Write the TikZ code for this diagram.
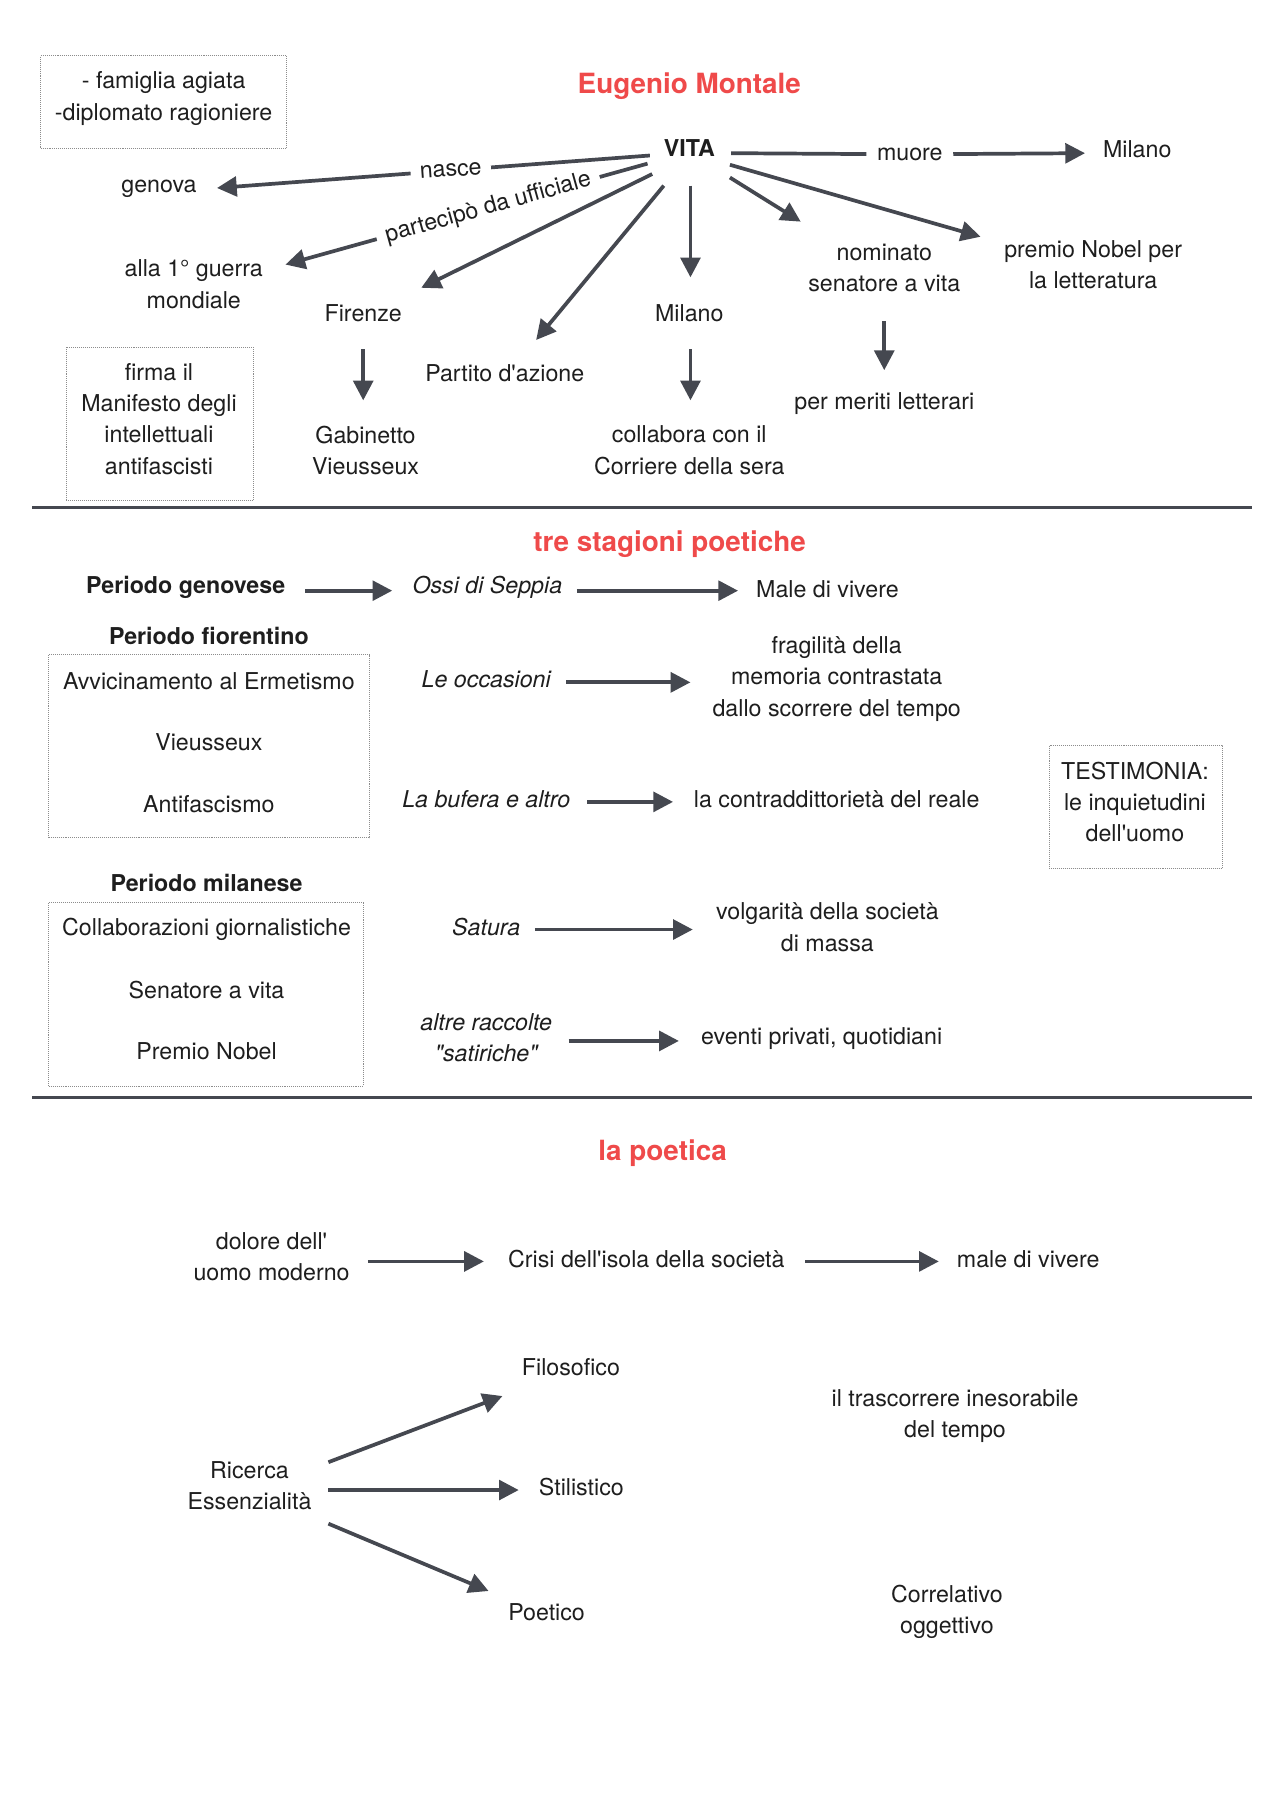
\documentclass[tikz,border=0pt]{standalone}
\usepackage{fontspec}
\setmainfont{TeX Gyre Heros}[Ligatures=TeXOff]
\usetikzlibrary{arrows.meta}
\definecolor{redc}{HTML}{EF4A4A}
\definecolor{arrc}{HTML}{454850}
\definecolor{txtc}{HTML}{1E1E1E}
\definecolor{boxc}{HTML}{8C8C8C}
\begin{document}
\begin{tikzpicture}[x=1pt,y=-1pt,
  every node/.style={font=\fontsize{20}{27}\selectfont, text=txtc, align=center, inner sep=0pt},
  ttl/.style={font=\bfseries\fontsize{24}{28}\selectfont, text=redc},
  bld/.style={font=\bfseries\fontsize{20}{27}\selectfont},
  itl/.style={font=\itshape\fontsize{20}{27}\selectfont},
  lab/.style={fill=white, inner xsep=8pt, inner ysep=2pt},
  arr/.style={draw=arrc, line width=3.2pt, -{Triangle[length=17pt,width=17pt]}},
  ln/.style={draw=arrc, line width=3.2pt},
  sepline/.style={draw=arrc, line width=2.6pt},
  dbox/.style={draw=boxc, densely dotted, line width=0.7pt}
]
\fill[white] (0,0) rectangle (1103,1560.6);
\path[use as bounding box] (0,0) rectangle (1103,1560.6);

% ---------------- section 1 ----------------
\node[ttl] (title) at (594,74) {Eugenio Montale};
\node[dbox, minimum width=212, minimum height=80] (boxFam) at (141,88) {};
\node (fam) at (141,85) {- famiglia agiata\\-diplomato ragioniere};
\node[bld] (vita) at (594,128) {VITA};
\node[inner xsep=9pt] (muore) at (784,133) {muore};
\node (milanoA) at (980,129) {Milano};
\node (genova) at (137,163) {genova};
\node (guerra) at (167,245) {alla 1° guerra\\mondiale};
\node (firenze) at (313,270) {Firenze};
\node (partito) at (435,322) {Partito d'azione};
\node (milanoB) at (594,270) {Milano};
\node (nominato) at (762,231) {nominato\\senatore a vita};
\node (nobel) at (942,228) {premio Nobel per\\la letteratura};
\node (gab) at (315,388) {Gabinetto\\Vieusseux};
\node (corriere) at (594,388) {collabora con il\\Corriere della sera};
\node (meriti) at (762,348) {per meriti letterari};
\node[dbox, minimum width=161, minimum height=132] (boxFirma) at (137.5,365) {};
\node (firma) at (137,361) {firma il\\Manifesto degli\\intellettuali\\antifascisti};

\coordinate (vMuore) at (630,132);
\coordinate (tMilanoA) at (935,132);
\coordinate (vNasce) at (560,134);
\coordinate (tGenova) at (187,162);
\coordinate (vPart) at (558,141);
\coordinate (tGuerra) at (246,228);
\coordinate (vFir) at (562,150);
\coordinate (tFir) at (363,248);
\coordinate (vPa) at (572,160);
\coordinate (tPa) at (462,293);
\coordinate (vMil) at (595,160);
\coordinate (tMil) at (595,239);
\coordinate (vNom) at (629,153);
\coordinate (tNom) at (690,191);
\coordinate (vNob) at (629,142);
\coordinate (tNob) at (845,204);
\coordinate (fGab) at (313,301);
\coordinate (tGab) at (313,345);
\coordinate (mCor) at (595,301);
\coordinate (tCor) at (595,345);
\coordinate (nMer) at (762,277);
\coordinate (tMer) at (762,319);

\draw[ln] (vMuore) -- (muore);
\draw[arr] (muore) -- (tMilanoA);
\draw[arr] (vNasce) -- node[lab, sloped, pos=0.46] (nasce) {nasce} (tGenova);
\draw[arr] (vPart) -- node[lab, sloped, pos=0.44] (partecipo) {partecipò da ufficiale} (tGuerra);
\draw[arr] (vFir) -- (tFir);
\draw[arr] (vPa) -- (tPa);
\draw[arr] (vMil) -- (tMil);
\draw[arr] (vNom) -- (tNom);
\draw[arr] (vNob) -- (tNob);
\draw[arr] (fGab) -- (tGab);
\draw[arr] (mCor) -- (tCor);
\draw[arr] (nMer) -- (tMer);

\coordinate (s1a) at (28,437);
\coordinate (s1b) at (1079,437);
\draw[sepline] (s1a) -- (s1b);

% ---------------- section 2 ----------------
\node[ttl] (title2) at (577,469) {tre stagioni poetiche};
\node[bld] (pgen) at (160,506) {Periodo genovese};
\node[itl] (ossi) at (420,506) {Ossi di Seppia};
\node (maleA) at (713,508) {Male di vivere};
\coordinate (a1s) at (263,509); \coordinate (a1e) at (338,509);
\coordinate (a2s) at (497,509); \coordinate (a2e) at (636,509);
\draw[arr] (a1s) -- (a1e);
\draw[arr] (a2s) -- (a2e);

\node[bld] (pfio) at (180,548) {Periodo fiorentino};
\node[dbox, minimum width=276, minimum height=158] (boxFio) at (180,643) {};
\node (erm) at (180,587) {Avvicinamento al Ermetismo};
\node (vieus) at (180,640) {Vieusseux};
\node (antif) at (180,693) {Antifascismo};
\node[itl] (occ) at (419,585) {Le occasioni};
\node (frag) at (721,585) {fragilità della\\memoria contrastata\\dallo scorrere del tempo};
\coordinate (a3s) at (488,588); \coordinate (a3e) at (595,588);
\draw[arr] (a3s) -- (a3e);
\node[itl] (buf) at (419,689) {La bufera e altro};
\node (contr) at (721,689) {la contraddittorietà del reale};
\coordinate (a4s) at (506,691); \coordinate (a4e) at (580,691);
\draw[arr] (a4s) -- (a4e);
\node[dbox, minimum width=149, minimum height=106] (boxTest) at (978.5,695) {};
\node (test) at (978,691) {TESTIMONIA:\\le inquietudini\\dell'uomo};

\node[bld] (pmil) at (178,761) {Periodo milanese};
\node[dbox, minimum width=271, minimum height=158] (boxMil) at (177.5,857) {};
\node (coll) at (178,801) {Collaborazioni giornalistiche};
\node (sen) at (178,853) {Senatore a vita};
\node (pnob) at (178,906) {Premio Nobel};
\node[itl] (satura) at (419,799) {Satura};
\node (volg) at (713,799) {volgarità della società\\di massa};
\coordinate (a5s) at (461,801); \coordinate (a5e) at (597,801);
\draw[arr] (a5s) -- (a5e);
\node[itl] (altre) at (419,894) {altre raccolte\\"satiriche"};
\node (eventi) at (708,895) {eventi privati, quotidiani};
\coordinate (a6s) at (490,897); \coordinate (a6e) at (585,897);
\draw[arr] (a6s) -- (a6e);

\coordinate (s2a) at (28,946);
\coordinate (s2b) at (1079,946);
\draw[sepline] (s2a) -- (s2b);

% ---------------- section 3 ----------------
\node[ttl] (title3) at (571,994) {la poetica};
\node (dolore) at (234,1083) {dolore dell'\\uomo moderno};
\node (crisi) at (557,1085) {Crisi dell'isola della società};
\node (maleB) at (886,1085) {male di vivere};
\coordinate (a7s) at (317,1087); \coordinate (a7e) at (417,1087);
\coordinate (a8s) at (694,1087); \coordinate (a8e) at (809,1087);
\draw[arr] (a7s) -- (a7e);
\draw[arr] (a8s) -- (a8e);

\node (filo) at (492,1178) {Filosofico};
\node (ricerca) at (215,1280) {Ricerca\\Essenzialità};
\node (stil) at (501,1281) {Stilistico};
\node (poet) at (471,1389) {Poetico};
\node (trasc) at (823,1220) {il trascorrere inesorabile\\del tempo};
\node (corr) at (816,1389) {Correlativo\\oggettivo};
\coordinate (r1s) at (283,1260); \coordinate (r1e) at (433,1203);
\coordinate (r2s) at (283,1284); \coordinate (r2e) at (447,1284);
\coordinate (r3s) at (283,1313); \coordinate (r3e) at (421,1371);
\draw[arr] (r1s) -- (r1e);
\draw[arr] (r2s) -- (r2e);
\draw[arr] (r3s) -- (r3e);
\end{tikzpicture}
\end{document}
